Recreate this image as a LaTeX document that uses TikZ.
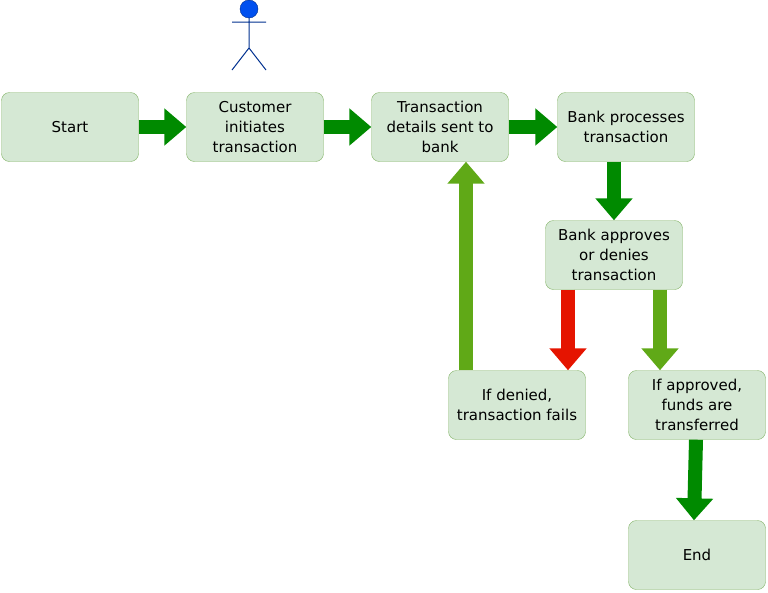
\documentclass[tikz,border=0pt]{standalone}
\usepackage{fontspec}
\setmainfont{DejaVu Sans}
\usetikzlibrary{arrows.meta}
\definecolor{boxfill}{HTML}{d5e8d4}
\definecolor{boxline}{HTML}{82b366}
\definecolor{darkgreen}{HTML}{008a00}
\definecolor{lightgreen}{HTML}{60a917}
\definecolor{denyred}{HTML}{e51400}
\definecolor{actorblue}{HTML}{0050ef}
\tikzset{
  stage/.style={draw=boxline,fill=boxfill,rounded corners=8pt,minimum width=137pt,
    minimum height=69pt,align=center,font=\fontsize{15}{20}\selectfont},
  block/.style={line width=14pt,-{Triangle[width=36pt,length=22pt]}},
}
\begin{document}
\begin{tikzpicture}[x=1pt,y=-1pt]
\useasboundingbox (0,0) rectangle (768,592);
\node[stage] (start) at (70,127) {Start};
\node[stage] (cust) at (255,127) {Customer\\initiates\\transaction};
\node[stage] (sent) at (440,127) {Transaction\\details sent to\\bank};
\node[stage] (proc) at (626,127) {Bank processes\\transaction\\[-20pt]};
\node[stage] (decide) at (614,255) {Bank approves\\or denies\\transaction};
\node[stage] (deny) at (517,405) {If denied,\\transaction fails};
\node[stage] (ok) at (697,405) {If approved,\\funds are\\transferred};
\node[stage] (end) at (697,555) {End};
% actor
\draw[draw=actorblue!60!black,fill=actorblue] (249,9) circle (9);
\draw[actorblue!60!black,line width=1pt] (249,18) -- (249,48)
  (232,22) -- (266,22) (232,70) -- (249,48) -- (266,70);
% arrows
\draw[block,darkgreen] (start) -- (cust);
\draw[block,darkgreen] (cust) -- (sent);
\draw[block,darkgreen] (sent) -- (proc);
\draw[block,darkgreen] ([xshift=-12]proc.south) -- (decide.north);
\draw[block,denyred] ([xshift=-46]decide.south) -- ([xshift=51]deny.north);
\draw[block,lightgreen] ([xshift=46]decide.south) -- ([xshift=-37]ok.north);
\draw[block,lightgreen] ([xshift=-51]deny.north) -- ([xshift=26]sent.south);
\draw[block,darkgreen] ([xshift=-1]ok.south) -- ([xshift=-3]end.north);
\end{tikzpicture}
\end{document}
